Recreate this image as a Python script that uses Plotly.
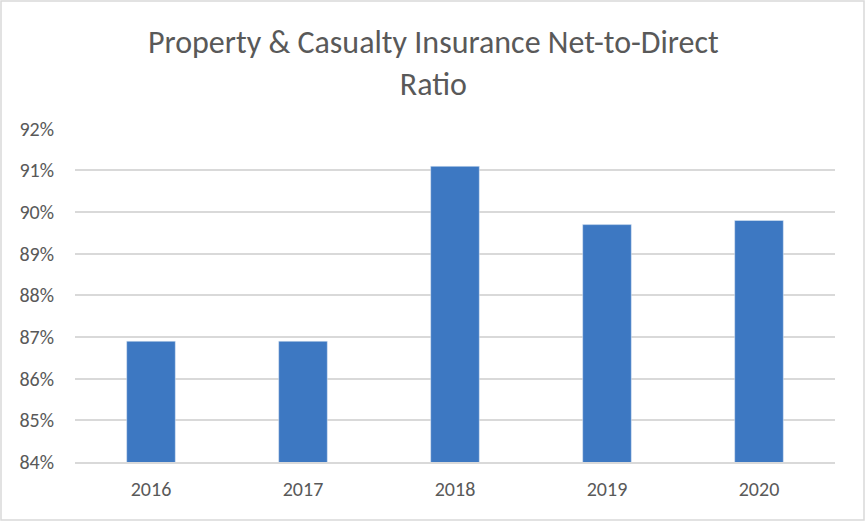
import plotly.graph_objects as go

years = ["2016", "2017", "2018", "2019", "2020"]
ratios = [0.869, 0.869, 0.911, 0.897, 0.898]
y_ticks = [0.84, 0.85, 0.86, 0.87, 0.88, 0.89, 0.90, 0.91, 0.92]
y_labels = ["84%", "85%", "86%", "87%", "88%", "89%", "90%", "91%", "92%"]
title_text = "Property & Casualty Insurance Net-to-Direct<br>Ratio"

W, H = 866, 522
ml, mr, mt, mb = 75, 31, 128, 60
pw, ph = W - ml - mr, H - mt - mb
FONT = "Carlito, Open Sans"
GREY = "#595959"

fig = go.Figure(go.Bar(x=years, y=ratios, marker_color="#3d78c2", width=0.32))

fig.update_layout(
    width=W, height=H,
    margin=dict(l=ml, r=mr, t=mt, b=mb),
    paper_bgcolor="white", plot_bgcolor="white",
    font=dict(family=FONT, color=GREY),
    showlegend=False,
    annotations=[dict(text=title_text, xref="paper", yref="paper",
                      x=(W / 2 - ml) / pw, y=1 + (mt - 63) / ph,
                      xanchor="center", yanchor="middle", align="center",
                      showarrow=False, font=dict(size=32, color=GREY, family=FONT))],
    xaxis=dict(showgrid=False, showline=True, linecolor="#d9d9d9", linewidth=1.5,
               tickfont=dict(size=20, color=GREY), ticks="", ticklabelstandoff=8),
    yaxis=dict(range=[0.84, 0.9202], tickvals=y_ticks, ticktext=y_labels,
               showgrid=True, gridcolor="#d9d9d9", gridwidth=1.5, zeroline=False,
               tickfont=dict(size=20, color=GREY), ticks="", ticklabelstandoff=20),
    shapes=[dict(type="rect", xref="paper", yref="paper",
                 x0=(1 - ml) / pw, x1=(W - 2 - ml) / pw,
                 y0=-(mb - 2) / ph, y1=1 + (mt - 1) / ph,
                 line=dict(color="#d9d9d9", width=1.5), layer="below")],
)

fig.write_html("out.html", config={"displayModeBar": False},
               post_script="document.body.style.margin='0';document.body.style.overflow='hidden';")
